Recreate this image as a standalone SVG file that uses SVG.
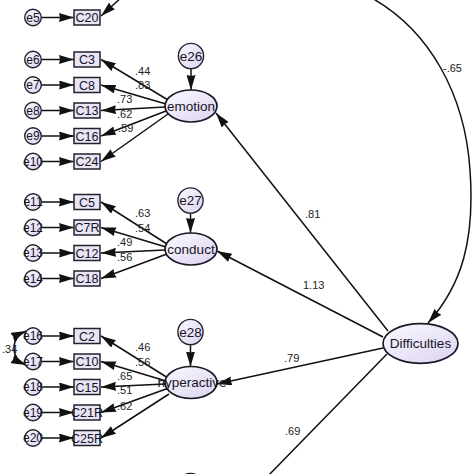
<svg xmlns="http://www.w3.org/2000/svg" width="474" height="474" viewBox="0 0 474 474">
<defs>
<linearGradient id="gl" x1="0" y1="0" x2="1" y2="1">
<stop offset="0" stop-color="#fbfaff"/>
<stop offset="1" stop-color="#dcd2f0"/>
</linearGradient>
<marker id="ah" markerWidth="15" markerHeight="9" refX="15" refY="4.5" orient="auto-start-reverse" markerUnits="userSpaceOnUse">
<path d="M0,0 L15,4.5 L0,9 L1,4.5 z" fill="#111"/>
</marker>
</defs>
<style>
.box{fill:#e9e4f6;stroke:#22222e;stroke-width:1.5}
.err{fill:url(#gl);stroke:#22222e;stroke-width:1.4}
.lat{fill:url(#gl);stroke:#1a1a26;stroke-width:1.7}
.cn line,.cn path{stroke:#111;stroke-width:1.5;fill:none}
.arr{marker-end:url(#ah)}
text{font-family:"Liberation Sans",Arial,sans-serif;fill:#15151f}
.bt{font-size:12.5px;text-anchor:middle}
.et{font-size:12px;text-anchor:middle}
.lt{font-size:13.5px;text-anchor:middle}
.nt{font-size:11px;fill:#222}
</style>
<rect width="474" height="474" fill="#fff"/>

<g id="connectors" class="cn">
<line class="arr" x1="41.5" y1="17.5" x2="74" y2="17.5"/>
<line class="arr" x1="41.5" y1="59.5" x2="74" y2="59.5"/>
<line class="arr" x1="41.5" y1="85" x2="74" y2="85"/>
<line class="arr" x1="41.5" y1="110.5" x2="74" y2="110.5"/>
<line class="arr" x1="41.5" y1="136" x2="74" y2="136"/>
<line class="arr" x1="41.5" y1="161.5" x2="74" y2="161.5"/>
<line class="arr" x1="41.5" y1="202" x2="74" y2="202"/>
<line class="arr" x1="41.5" y1="227.5" x2="74" y2="227.5"/>
<line class="arr" x1="41.5" y1="253" x2="74" y2="253"/>
<line class="arr" x1="41.5" y1="278.5" x2="74" y2="278.5"/>
<line class="arr" x1="41.5" y1="336" x2="74" y2="336"/>
<line class="arr" x1="41.5" y1="361.5" x2="74" y2="361.5"/>
<line class="arr" x1="41.5" y1="387" x2="74" y2="387"/>
<line class="arr" x1="41.5" y1="412.5" x2="74" y2="412.5"/>
<line class="arr" x1="41.5" y1="438" x2="74" y2="438"/>
<line class="arr" x1="123" y1="-4" x2="101" y2="16"/>
<line class="arr" x1="168" y1="100" x2="101" y2="59.5"/>
<line class="arr" x1="166" y1="104" x2="101" y2="85"/>
<line class="arr" x1="165" y1="107" x2="101" y2="110.5"/>
<line class="arr" x1="166" y1="111" x2="101" y2="136"/>
<line class="arr" x1="168" y1="114" x2="101" y2="161.5"/>
<line class="arr" x1="167" y1="244" x2="101" y2="202"/>
<line class="arr" x1="166" y1="247" x2="101" y2="227.5"/>
<line class="arr" x1="165" y1="250" x2="101" y2="253"/>
<line class="arr" x1="167" y1="254" x2="101" y2="278.5"/>
<line class="arr" x1="168" y1="378" x2="101" y2="336"/>
<line class="arr" x1="166" y1="381" x2="101" y2="361.5"/>
<line class="arr" x1="165" y1="384" x2="101" y2="387"/>
<line class="arr" x1="166" y1="389" x2="101" y2="412.5"/>
<line class="arr" x1="169" y1="394" x2="101" y2="438"/>
<line class="arr" x1="191" y1="68.5" x2="191" y2="90"/>
<line class="arr" x1="190.5" y1="213" x2="190.5" y2="233"/>
<line class="arr" x1="190.5" y1="344.5" x2="190.5" y2="366.5"/>
<line class="arr" x1="388" y1="331" x2="216" y2="113"/>
<line class="arr" x1="383" y1="337" x2="217" y2="251"/>
<line class="arr" x1="383" y1="348" x2="217" y2="384"/>
<line x1="387" y1="354" x2="266" y2="478"/>
<path class="arr" d="M370,-3 C430,30 465,95 470,170 C475,240 462,285 428,323"/>
<path d="M26,331 C10,338 10,358 26,365" marker-start="url(#ah)" marker-end="url(#ah)"/>
</g>

<g id="labels">
<text class="nt" x="135" y="75">.44</text>
<text class="nt" x="135" y="89">.83</text>
<text class="nt" x="117" y="103">.73</text>
<text class="nt" x="117" y="118">.62</text>
<text class="nt" x="118" y="132">.59</text>
<text class="nt" x="135" y="217">.63</text>
<text class="nt" x="135" y="232">.54</text>
<text class="nt" x="117" y="246">.49</text>
<text class="nt" x="117" y="261">.56</text>
<text class="nt" x="135" y="351">.46</text>
<text class="nt" x="135" y="366">.56</text>
<text class="nt" x="117" y="380">.65</text>
<text class="nt" x="117" y="394">.51</text>
<text class="nt" x="117" y="410">.62</text>
<text class="nt" x="305" y="218">.81</text>
<text class="nt" x="303" y="289">1.13</text>
<text class="nt" x="284" y="362">.79</text>
<text class="nt" x="285" y="435">.69</text>
<text class="nt" x="443" y="72">-.65</text>
<text class="nt" x="2" y="353">.34</text>
</g>

<g id="e5"><circle class="err" cx="33" cy="17.5" r="8.3"/><text class="et" x="33" y="21.8">e5</text></g>
<g id="e6"><circle class="err" cx="33" cy="59.5" r="8.3"/><text class="et" x="33" y="63.8">e6</text></g>
<g id="e7"><circle class="err" cx="33" cy="85" r="8.3"/><text class="et" x="33" y="89.3">e7</text></g>
<g id="e8"><circle class="err" cx="33" cy="110.5" r="8.3"/><text class="et" x="33" y="114.8">e8</text></g>
<g id="e9"><circle class="err" cx="33" cy="136" r="8.3"/><text class="et" x="33" y="140.3">e9</text></g>
<g id="e10"><circle class="err" cx="33" cy="161.5" r="8.3"/><text class="et" x="33" y="165.8">e10</text></g>
<g id="e11"><circle class="err" cx="33" cy="202" r="8.3"/><text class="et" x="33" y="206.3">e11</text></g>
<g id="e12"><circle class="err" cx="33" cy="227.5" r="8.3"/><text class="et" x="33" y="231.8">e12</text></g>
<g id="e13"><circle class="err" cx="33" cy="253" r="8.3"/><text class="et" x="33" y="257.3">e13</text></g>
<g id="e14"><circle class="err" cx="33" cy="278.5" r="8.3"/><text class="et" x="33" y="282.8">e14</text></g>
<g id="e16"><circle class="err" cx="33" cy="336" r="8.3"/><text class="et" x="33" y="340.3">e16</text></g>
<g id="e17"><circle class="err" cx="33" cy="361.5" r="8.3"/><text class="et" x="33" y="365.8">e17</text></g>
<g id="e18"><circle class="err" cx="33" cy="387" r="8.3"/><text class="et" x="33" y="391.3">e18</text></g>
<g id="e19"><circle class="err" cx="33" cy="412.5" r="8.3"/><text class="et" x="33" y="416.8">e19</text></g>
<g id="e20"><circle class="err" cx="33" cy="438" r="8.3"/><text class="et" x="33" y="442.3">e20</text></g>

<g id="C20"><rect class="box" x="74" y="10" width="26" height="15"/><text class="bt" x="87" y="22">C20</text></g>
<g id="C3"><rect class="box" x="74" y="52" width="26" height="15"/><text class="bt" x="87" y="64">C3</text></g>
<g id="C8"><rect class="box" x="74" y="77.5" width="26" height="15"/><text class="bt" x="87" y="89.5">C8</text></g>
<g id="C13"><rect class="box" x="74" y="103" width="26" height="15"/><text class="bt" x="87" y="115">C13</text></g>
<g id="C16"><rect class="box" x="74" y="128.5" width="26" height="15"/><text class="bt" x="87" y="140.5">C16</text></g>
<g id="C24"><rect class="box" x="74" y="154" width="26" height="15"/><text class="bt" x="87" y="166">C24</text></g>
<g id="C5"><rect class="box" x="74" y="194.5" width="26" height="15"/><text class="bt" x="87" y="206.5">C5</text></g>
<g id="C7R"><rect class="box" x="74" y="220" width="26" height="15"/><text class="bt" x="87" y="232">C7R</text></g>
<g id="C12"><rect class="box" x="74" y="245.5" width="26" height="15"/><text class="bt" x="87" y="257.5">C12</text></g>
<g id="C18"><rect class="box" x="74" y="271" width="26" height="15"/><text class="bt" x="87" y="283">C18</text></g>
<g id="C2"><rect class="box" x="74" y="328.5" width="26" height="15"/><text class="bt" x="87" y="340.5">C2</text></g>
<g id="C10"><rect class="box" x="74" y="354" width="26" height="15"/><text class="bt" x="87" y="366">C10</text></g>
<g id="C15"><rect class="box" x="74" y="379.5" width="26" height="15"/><text class="bt" x="87" y="391.5">C15</text></g>
<g id="C21R"><rect class="box" x="74" y="405" width="26" height="15"/><text class="bt" x="87" y="417">C21R</text></g>
<g id="C25R"><rect class="box" x="74" y="430.5" width="26" height="15"/><text class="bt" x="87" y="442.5">C25R</text></g>

<g id="e26"><circle class="err" cx="191" cy="56" r="12.6"/><text class="lt" x="191" y="60.5">e26</text></g>
<g id="e27"><circle class="err" cx="190.5" cy="200.5" r="12.6"/><text class="lt" x="190.5" y="205">e27</text></g>
<g id="e28"><circle class="err" cx="190.5" cy="332" r="12.6"/><text class="lt" x="190.5" y="336.5">e28</text></g>
<g id="e29"><circle class="err" cx="190.5" cy="486" r="12.6"/></g>

<g id="emotion"><ellipse class="lat" cx="191" cy="106" rx="26" ry="16"/><text class="lt" x="191" y="110.5">emotion</text></g>
<g id="conduct"><ellipse class="lat" cx="191" cy="249" rx="26" ry="16"/><text class="lt" x="191" y="253.5">conduct</text></g>
<g id="hyperactive"><ellipse class="lat" cx="191" cy="382.5" rx="26" ry="16"/><text class="lt" x="192" y="387">hyperactive</text></g>
<g id="Difficulties"><ellipse class="lat" cx="420.5" cy="343.5" rx="37.5" ry="19.8"/><text class="lt" x="420.5" y="348">Difficulties</text></g>
</svg>
